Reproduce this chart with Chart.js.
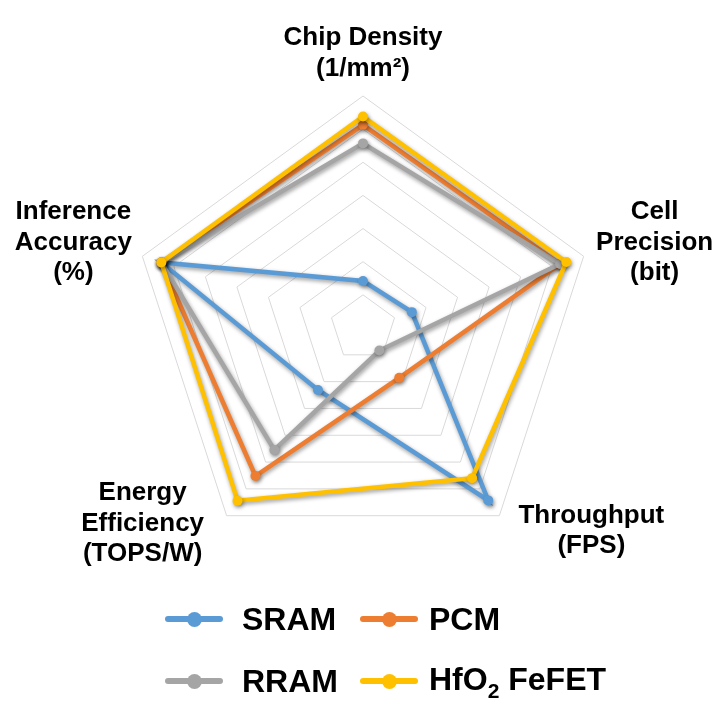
<!DOCTYPE html>
<html>
<head>
<meta charset="utf-8">
<script src="https://cdn.jsdelivr.net/npm/chart.js@4.4.1/dist/chart.umd.min.js"></script>
<style>
  html, body { margin: 0; padding: 0; background: #fff; }
  #wrap { position: relative; width: 719px; height: 713px; }
  #radar { position: absolute; left: 0; top: 0; }
  #legend {
    position: absolute; left: 165px; top: 597px;
    display: grid; grid-template-columns: 195px auto; row-gap: 18px;
    font-family: 'Liberation Sans', Arial, sans-serif; font-weight: bold; font-size: 32px; color: #000;
  }
  .item { display: flex; align-items: center; height: 44px; }
  .icon { position: relative; width: 58px; height: 15px; }
  .icon .ln { position: absolute; left: 0; right: 0; top: 4.5px; height: 6px; border-radius: 3px; }
  .icon .dot { position: absolute; left: 21.5px; top: 0; width: 15px; height: 15px; border-radius: 50%; }
  .txt { margin-left: 19px; line-height: 1.15; white-space: nowrap; }
  .item:nth-child(2n) .txt { margin-left: 11px; }
  .txt sub { font-size: 21px; vertical-align: -8px; line-height: 1; }
</style>
</head>
<body>
<div id="wrap">
  <canvas id="radar" width="719" height="713"></canvas>
  <div id="legend"></div>
</div>
<script>
// axis titles, one array of lines per spoke (clockwise from the top)
const AXES = [
  ['Chip Density', '(1/mm²)'],
  ['Cell', 'Precision', '(bit)'],
  ['Throughput', '(FPS)'],
  ['Energy', 'Efficiency', '(TOPS/W)'],
  ['Inference', 'Accuracy', '(%)']
];

const SERIES = ['SRAM', 'PCM', 'RRAM', 'HfO₂ FeFET'];

// normalised scores, 0..7 rings
const SRAM  = [1.42, 1.55, 6.43, 2.31, 6.4];
const PCM   = [6.13, 6.25, 1.86, 5.52, 6.4];
const RRAM  = [5.57, 6.25, 0.84, 4.55, 6.4];
const FEFET = [6.38, 6.45, 5.6, 6.44, 6.4];

const COLORS = ['#5B9BD5', '#ED7D31', '#A5A5A5', '#FFC000'];

// where each title block sits relative to its spoke end (px)
const TITLE_OFFSETS = [[0, -45], [71, -16], [92, 13], [-84, 6], [-69, -16]];
const TITLE_FONT = 'bold 26px "Liberation Sans", Arial, sans-serif';
const LINE_H = 30.5;
const CAP_H = 18.6;

const axisTitles = {
  id: 'axisTitles',
  afterDraw(chart) {
    const scale = chart.scales.r;
    const ctx = chart.ctx;
    ctx.save();
    ctx.font = TITLE_FONT;
    ctx.fillStyle = '#000';
    ctx.textAlign = 'center';
    ctx.textBaseline = 'alphabetic';
    chart.data.labels.forEach((lines, i) => {
      const p = scale.getPointPosition(i, scale.drawingArea);
      const cx = p.x + TITLE_OFFSETS[i][0];
      const cy = p.y + TITLE_OFFSETS[i][1];
      lines.forEach((line, j) => {
        const y = cy - (lines.length - 1) * LINE_H / 2 + j * LINE_H + CAP_H / 2;
        ctx.fillText(line, cx, y);
      });
    });
    ctx.restore();
  }
};

// soft drop shadow under the series, like the office chart
const lineShadow = {
  id: 'lineShadow',
  beforeDatasetsDraw(chart) {
    const ctx = chart.ctx;
    ctx.save();
    ctx.shadowColor = 'rgba(0,0,0,0.4)';
    ctx.shadowBlur = 4;
    ctx.shadowOffsetX = 1;
    ctx.shadowOffsetY = 2;
  },
  afterDatasetsDraw(chart) {
    chart.ctx.restore();
  }
};

const values = [SRAM, PCM, RRAM, FEFET];

const chart = new Chart(document.getElementById('radar').getContext('2d'), {
  type: 'radar',
  data: {
    labels: AXES,
    datasets: SERIES.map((name, i) => ({
      label: name,
      data: values[i],
      borderColor: COLORS[i],
      backgroundColor: COLORS[i],
      pointBackgroundColor: COLORS[i],
      pointBorderColor: COLORS[i],
      borderWidth: 4.5,
      pointRadius: 5,
      pointBorderWidth: 0,
      fill: false,
      order: SERIES.length - 1 - i
    }))
  },
  options: {
    responsive: false,
    animation: false,
    layout: { padding: { left: 131, right: 124, top: 96, bottom: 153 } },
    scales: {
      r: {
        min: 0,
        max: 7,
        ticks: { stepSize: 1, display: false },
        grid: { color: '#d9d9d9', lineWidth: 1 },
        angleLines: { display: false },
        pointLabels: { display: false }
      }
    },
    plugins: {
      legend: { display: false },
      tooltip: { enabled: false }
    }
  },
  plugins: [lineShadow, axisTitles]
});

// html legend, 2 x 2 like the original
const legendEl = document.getElementById('legend');
chart.data.datasets.forEach((ds) => {
  const item = document.createElement('div');
  item.className = 'item';
  const name = ds.label.replace('₂', '<sub>2</sub>');
  item.innerHTML =
    `<span class="icon"><span class="ln" style="background:${ds.borderColor}"></span>` +
    `<span class="dot" style="background:${ds.borderColor}"></span></span>` +
    `<span class="txt">${name}</span>`;
  legendEl.appendChild(item);
});
</script>
</body>
</html>
